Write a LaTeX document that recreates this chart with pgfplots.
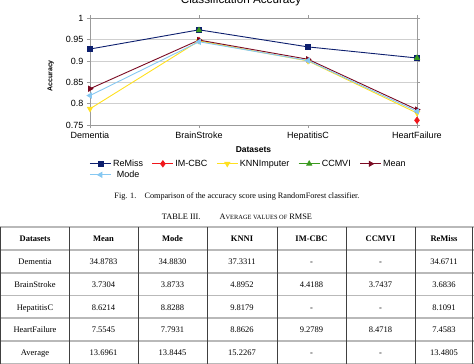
\documentclass[border=0pt]{standalone}
\usepackage{pgfplots}
\pgfplotsset{compat=1.18}
\usepackage{fontspec}
\setmainfont{Liberation Serif}
\newfontfamily\arial{Liberation Sans}
\definecolor{cReMiss}{HTML}{0D1F6E}
\definecolor{cIM}{HTML}{F0161B}
\definecolor{cKNN}{HTML}{FFE020}
\definecolor{cCC}{HTML}{3A9A1E}
\definecolor{cMean}{HTML}{7A0A22}
\definecolor{cMode}{HTML}{86C8F2}
\definecolor{gridc}{HTML}{CFCFCF}
\newcommand\trow[8]{%
  \node[anchor=base] at (35,361-#1) {#2};
  \node[anchor=base] at (103.5,361-#1) {#3};
  \node[anchor=base] at (172.5,361-#1) {#4};
  \node[anchor=base] at (242,361-#1) {#5};
  \node[anchor=base] at (311.5,361-#1) {#6};
  \node[anchor=base] at (380.5,361-#1) {#7};
  \node[anchor=base] at (444,361-#1) {#8};}
\begin{document}
\begin{tikzpicture}
\begin{axis}[
  anchor=south west,
  scale only axis, width=327pt, height=106.7pt,
  xmin=0, xmax=3, ymin=0.75, ymax=1,
  xtick={0,1,2,3},
  xticklabels={Dementia,BrainStroke,HepatitisC,HeartFailure},
  ytick={0.75,0.8,0.85,0.9,0.95,1},
  /pgf/number format/assume math mode=true,
  ymajorgrids, major grid style={gridc, line width=0.6pt},
  axis line style={gridc!75!black, line width=0.6pt},
  tick align=outside, major tick length=3pt,
  tick style={gridc!75!black, line width=0.6pt},
  ticklabel style={font=\arial\fontsize{9}{10}\selectfont},
  xlabel={Datasets}, ylabel={Accuracy},
  xlabel style={font=\arial\bfseries\fontsize{8.5}{10}\selectfont, at={(axis description cs:0.5,-0.228)}, anchor=center},
  ylabel style={font=\arial\bfseries\fontsize{7}{8}\selectfont, at={(axis description cs:-0.12,0.46)}, anchor=center},
  clip=false,
  unbounded coords=jump,
  legend columns=5,
  legend image code/.code={\draw[mark repeat=2,mark phase=2] plot coordinates {(0pt,0pt) (10.5pt,0pt) (21pt,0pt)};},
  legend style={draw=none, fill=none, at={(axis description cs:-0.002,-0.31)}, anchor=north west,
    font=\arial\fontsize{9}{10}\selectfont, inner sep=0pt,
    nodes={inner ysep=1.5pt, inner xsep=1.6pt},
    /tikz/every even column/.append style={column sep=7.3pt}},
  every axis plot/.append style={line width=0.9pt, mark options={solid}},
]
\addplot[color=cReMiss, mark=square*, mark size=2.5pt] coordinates {(0,0.928)(1,0.973)(2,0.933)(3,0.907)};
\addlegendentry{ReMiss}
\addplot[color=cIM, mark=diamond*, mark size=3pt] coordinates {(0,nan)(1,0.948)(2,nan)(3,0.761)};
\addlegendentry{IM-CBC}
\addplot[color=cKNN, mark=triangle*, mark size=2.8pt, mark options={rotate=180}] coordinates {(0,0.788)(1,0.947)(2,0.900)(3,0.778)};
\addlegendentry{KNNImputer}
\addplot[color=cCC, mark=triangle*, mark size=2.8pt] coordinates {(0,nan)(1,0.972)(2,nan)(3,0.907)};
\addlegendentry{CCMVI}
\addplot[color=cMean, mark=triangle*, mark size=2.8pt, mark options={rotate=-90}] coordinates {(0,0.835)(1,0.949)(2,0.904)(3,0.786)};
\addlegendentry{Mean}
\addplot[color=cMode, mark=triangle*, mark size=2.8pt, mark options={rotate=90}] coordinates {(0,0.819)(1,0.945)(2,0.901)(3,0.782)};
\addlegendentry{Mode}
\end{axis}
\begin{scope}[x=1pt,y=1pt,shift={(-90pt,-239pt)}]
\node[font=\arial\fontsize{11.7}{13}\selectfont, anchor=base] at (241,360) {Classification Accuracy};
\node[font=\fontsize{8.2}{9}\selectfont, anchor=base] at (237,364-198) {Fig. 1.\hspace{1em}Comparison of the accuracy score using RandomForest classifier.};
\node[font=\fontsize{8.3}{9}\selectfont, anchor=base] at (237,364-219) {TABLE III.\hspace{2.3em}A{\fontsize{6.4}{7}\selectfont VERAGE VALUES OF} RMSE};
\foreach \y in {227,250,273,295.5,318,341,363.5} \draw[gray!55, line width=1.1pt] (0,364-\y) -- (474,364-\y);
\foreach \x in {0.5,69,138,207,277,346,415,472} \draw[black!75, line width=0.6pt] (\x,364-227) -- (\x,0);
\begin{scope}[font=\fontsize{8.5}{10}\selectfont]
\trow{238.5}{\textbf{Datasets}}{\textbf{Mean}}{\textbf{Mode}}{\textbf{KNNI}}{\textbf{IM-CBC}}{\textbf{CCMVI}}{\textbf{ReMiss}}
\trow{261.5}{Dementia}{34.8783}{34.8830}{37.3311}{-}{-}{34.6711}
\trow{284}{BrainStroke}{3.7304}{3.8733}{4.8952}{4.4188}{3.7437}{3.6836}
\trow{307}{HepatitisC}{8.6214}{8.8288}{9.8179}{-}{-}{8.1091}
\trow{329.5}{HeartFailure}{7.5545}{7.7931}{8.8626}{9.2789}{8.4718}{7.4583}
\trow{352}{Average}{13.6961}{13.8445}{15.2267}{-}{-}{13.4805}
\end{scope}
\pgfresetboundingbox
\path[use as bounding box] (0,0) rectangle (474,364);
\end{scope}
\end{tikzpicture}
\end{document}
